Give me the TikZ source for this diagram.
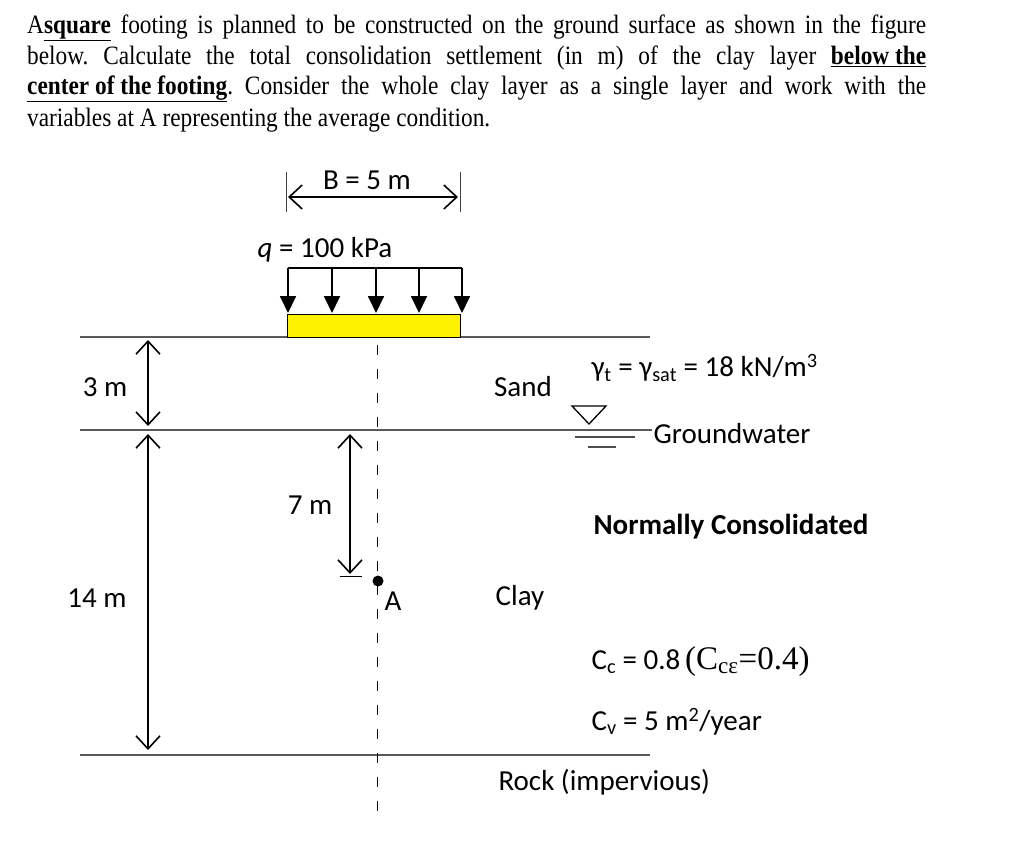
\documentclass[tikz,border=0pt]{standalone}
\usepackage{fontspec}
\setmainfont{Carlito}
\newfontfamily\tnr{Liberation Serif}
\usetikzlibrary{arrows.meta}
\frenchspacing
\newcommand{\pline}[1]{\scalebox{0.88}[1]{\makebox[1021.6pt][s]{#1}}}
\begin{document}
\begin{tikzpicture}[x=1pt,y=-1pt,
  lbl/.style={font=\fontsize{29}{30}\selectfont},
  ln/.style={line width=1.3pt,gray!70!black},
  dim/.style={line width=1.5pt,{Straight Barb[length=13pt,width=24pt,line width=1.6pt]}-{Straight Barb[length=13pt,width=24pt,line width=1.6pt]}},
  load/.style={line width=1.8pt,-{Triangle[length=17pt,width=16pt]}},
  txt/.style={anchor=west,inner sep=0pt,font=\tnr\fontsize{26.5}{30}\selectfont}]
\useasboundingbox (0,0) rectangle (1024,841);
% problem text
\node[txt] (l1) at (27,28) {\pline{A\underline{\textbf{square}} footing is planned to be constructed on the ground surface as shown in the figure}};
\node[txt] (l2) at (27,58) {\pline{below. Calculate the total consolidation settlement (in m) of the clay layer \underline{\textbf{below the}}}};
\node[txt] (l3) at (27,89) {\pline{\underline{\textbf{center of the footing}}. Consider the whole clay layer as a single layer and work with the}};
\node[txt] (l4) at (27,120) {\scalebox{0.88}[1]{variables at A representing the average condition.}};
% layers
\draw[ln] (80,337) -- (650,337);
\draw[ln] (80,430) -- (652,430);
\draw[ln] (80,755) -- (650,755);
% footing
\node[draw=black,fill=yellow,line width=0.8pt,minimum width=173pt,minimum height=23pt,inner sep=0pt] (foot) at (373.5,325.5) {};
% centerline
\draw[line width=0.9pt,dash pattern=on 10pt off 14pt] (377,345) -- (377,812);
% load
\draw[line width=1.8pt] (288,268) -- (462,268);
\foreach \x in {288,332,376,419,462} \draw[load] (\x,268) -- (\x,313);
\node[lbl] (q) at (325,250) {\textit{q} = 100 kPa};
% B dim
\draw[line width=1pt,gray!50!black] (286,172) -- (286,212) (460,172) -- (460,212);
\draw[dim] (288,197) -- (458,197);
\node[lbl] (B) at (367,180) {B = 5 m};
% depths
\draw[dim] (148,340) -- (148,426);
\node[lbl] (d3) at (105,387) {3 m};
\draw[dim] (148,434) -- (148,750);
\node[lbl] (d14) at (97,598) {14 m};
\draw[dim] (350,434) -- (350,574);
\draw[line width=1pt] (340,576) -- (362,576);
\node[lbl] (d7) at (310,505) {7 m};
\fill (378,581) circle (5.5pt);
\node[lbl] (A) at (393,601) {A};
% labels
\node[lbl] (sand) at (523,387) {Sand};
\node[lbl] (clay) at (520,598) {Clay};
\node[lbl,anchor=west] (rock) at (495,782) {Rock (impervious)};
\node[lbl,anchor=west] (gam) at (588,368) {γ\textsubscript{t} = γ\textsubscript{sat} = 18 kN/m\textsuperscript{3}};
\draw[line width=1.3pt] (572,406) -- (606,406) -- (589,424) -- cycle;
\draw[line width=1.1pt,gray!60!black] (575,437) -- (635,437) (588,447) -- (616,447);
\node[lbl,anchor=west] (gw) at (650,434) {Groundwater};
\node[lbl,anchor=west,font=\bfseries\fontsize{29}{30}\selectfont] (nc) at (590,527) {Normally Consolidated};
\node[lbl,anchor=west] (cc) at (588,662) {C\textsubscript{c} = 0.8\,{\tnr\fontsize{33}{34}\selectfont (C\textsubscript{cε}=0.4)}};
\node[lbl,anchor=west] (cv) at (588,722) {C\textsubscript{v} = 5 m\textsuperscript{2}/year};
\end{tikzpicture}
\end{document}
